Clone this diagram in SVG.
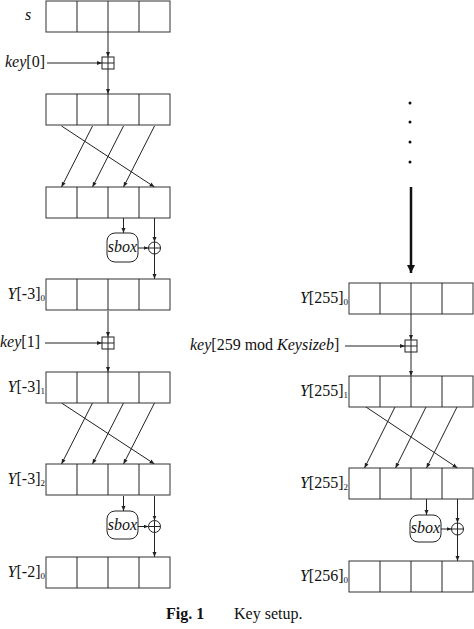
<svg xmlns="http://www.w3.org/2000/svg" width="474" height="629" viewBox="0 0 474 629" font-family="'Liberation Serif','Times New Roman',serif">
<style>
.cell{fill:#fff;stroke:#333;stroke-width:1}
.ln{fill:none;stroke:#222;stroke-width:1}
.ar{fill:none;stroke:#222;stroke-width:1;marker-end:url(#ah)}
.sb{fill:#fff;stroke:#222;stroke-width:1}
text{font-family:"Liberation Serif","Times New Roman",serif;font-size:16px;fill:#111}
tspan{fill:#111}
.it{font-style:italic}
.sub{font-size:9px;fill:#111}
</style>
<defs>
<marker id="ah" viewBox="0 0 10 10" refX="10" refY="5" markerWidth="5" markerHeight="5" orient="auto" markerUnits="userSpaceOnUse"><path d="M0,1 L10,5 L0,9 z" fill="#222"/></marker>
<marker id="ahb" viewBox="0 0 10 10" refX="10" refY="5" markerWidth="8" markerHeight="10" orient="auto" markerUnits="userSpaceOnUse"><path d="M0,0 L10,5 L0,10 z" fill="#111"/></marker>
<g id="row4">
<rect class="cell" x="0" y="0" width="124" height="31"/>
<line class="ln" x1="31" y1="0" x2="31" y2="31"/>
<line class="ln" x1="62" y1="0" x2="62" y2="31"/>
<line class="ln" x1="93" y1="0" x2="93" y2="31"/>
</g>
<g id="plusbox">
<rect x="-6" y="-6" width="12" height="12" fill="#fff" stroke="#222"/>
<line x1="-6" y1="0" x2="6" y2="0" stroke="#222"/>
<line x1="0" y1="-6" x2="0" y2="6" stroke="#222"/>
</g>
<g id="xor">
<circle cx="0" cy="0" r="6" fill="#fff" stroke="#222"/>
<line x1="-6" y1="0" x2="6" y2="0" stroke="#222"/>
<line x1="0" y1="-6" x2="0" y2="6" stroke="#222"/>
</g>
</defs>
<rect width="474" height="629" fill="#fff"/>

<g id="connectors">
<line class="ar" x1="108" y1="32" x2="108" y2="57"/>
<line class="ar" x1="47" y1="63" x2="102" y2="63"/>
<line class="ar" x1="108" y1="69" x2="108" y2="94"/>
<line class="ar" x1="61.5" y1="126" x2="154.5" y2="187"/>
<line class="ar" x1="92.5" y1="126" x2="61.5" y2="187"/>
<line class="ar" x1="123.5" y1="126" x2="92.5" y2="187"/>
<line class="ar" x1="154.5" y1="126" x2="123.5" y2="187"/>
<line class="ar" x1="123.5" y1="218" x2="123.5" y2="233"/>
<line class="ar" x1="154.5" y1="218" x2="154.5" y2="242"/>
<line class="ar" x1="138" y1="248" x2="148.5" y2="248"/>
<line class="ar" x1="154.5" y1="254" x2="154.5" y2="279"/>
<line class="ar" x1="108" y1="311" x2="108" y2="337"/>
<line class="ar" x1="45" y1="343" x2="102" y2="343"/>
<line class="ar" x1="108" y1="349" x2="108" y2="372"/>
<line class="ar" x1="61.5" y1="403" x2="154.5" y2="464"/>
<line class="ar" x1="92.5" y1="403" x2="61.5" y2="464"/>
<line class="ar" x1="123.5" y1="403" x2="92.5" y2="464"/>
<line class="ar" x1="154.5" y1="403" x2="123.5" y2="464"/>
<line class="ar" x1="123.5" y1="496" x2="123.5" y2="511"/>
<line class="ar" x1="154.5" y1="496" x2="154.5" y2="520.5"/>
<line class="ar" x1="138" y1="526.5" x2="148.5" y2="526.5"/>
<line class="ar" x1="154.5" y1="532.5" x2="154.5" y2="557"/>
<line x1="411" y1="187" x2="411" y2="273" stroke="#111" stroke-width="2.5" marker-end="url(#ahb)"/>
<line class="ar" x1="411" y1="313" x2="411" y2="340"/>
<line class="ar" x1="345" y1="346" x2="405" y2="346"/>
<line class="ar" x1="411" y1="352" x2="411" y2="376"/>
<line class="ar" x1="364.5" y1="406" x2="457.5" y2="468"/>
<line class="ar" x1="395.5" y1="406" x2="364.5" y2="468"/>
<line class="ar" x1="426.5" y1="406" x2="395.5" y2="468"/>
<line class="ar" x1="457.5" y1="406" x2="426.5" y2="468"/>
<line class="ar" x1="426.5" y1="499" x2="426.5" y2="515"/>
<line class="ar" x1="457.5" y1="499" x2="457.5" y2="523"/>
<line class="ar" x1="441" y1="529" x2="451.5" y2="529"/>
<line class="ar" x1="457.5" y1="535" x2="457.5" y2="561"/>
</g>

<g id="dots" fill="#111">
<circle cx="410" cy="103" r="1.5"/>
<circle cx="410" cy="122" r="1.5"/>
<circle cx="410" cy="142" r="1.5"/>
<circle cx="410" cy="162" r="1.5"/>
</g>

<g id="s"><use href="#row4" x="46" y="1"/><text class="it" x="25" y="20">s</text></g>
<g id="plus0"><use href="#plusbox" x="108" y="63"/></g>
<g id="key0"><text x="5" y="67"><tspan class="it">key</tspan>[0]</text></g>
<g id="r1"><use href="#row4" x="46" y="94"/></g>
<g id="r2"><use href="#row4" x="46" y="187"/></g>
<g id="sbox1"><rect class="sb" x="107" y="233" width="31" height="29" rx="8"/><text class="it" x="122.5" y="252" text-anchor="middle" font-size="15">sbox</text></g>
<g id="xor1"><use href="#xor" x="154.5" y="248"/></g>
<g id="y3_0"><use href="#row4" x="46" y="279"/><text x="45" y="299" text-anchor="end"><tspan class="it">Y</tspan>[-3]<tspan class="sub" dy="2">0</tspan></text></g>
<g id="plus1"><use href="#plusbox" x="108" y="343"/></g>
<g id="key1"><text x="0" y="347"><tspan class="it">key</tspan>[1]</text></g>
<g id="y3_1"><use href="#row4" x="46" y="372"/><text x="45" y="392" text-anchor="end"><tspan class="it">Y</tspan>[-3]<tspan class="sub" dy="2">1</tspan></text></g>
<g id="y3_2"><use href="#row4" x="46" y="464"/><text x="45" y="484" text-anchor="end"><tspan class="it">Y</tspan>[-3]<tspan class="sub" dy="2">2</tspan></text></g>
<g id="sbox2"><rect class="sb" x="107" y="511" width="31" height="28" rx="8"/><text class="it" x="122.5" y="530" text-anchor="middle" font-size="15">sbox</text></g>
<g id="xor2"><use href="#xor" x="154.5" y="526.5"/></g>
<g id="y2_0"><use href="#row4" x="46" y="557"/><text x="45" y="577" text-anchor="end"><tspan class="it">Y</tspan>[-2]<tspan class="sub" dy="2">0</tspan></text></g>

<g id="y255_0"><use href="#row4" x="349" y="283"/><text x="348" y="303" text-anchor="end"><tspan class="it">Y</tspan>[255]<tspan class="sub" dy="2">0</tspan></text></g>
<g id="plusR"><use href="#plusbox" x="411" y="346"/></g>
<g id="keyR"><text x="190" y="350"><tspan class="it">key</tspan>[259 mod <tspan class="it">Keysizeb</tspan>]</text></g>
<g id="y255_1"><use href="#row4" x="349" y="376"/><text x="348" y="396" text-anchor="end"><tspan class="it">Y</tspan>[255]<tspan class="sub" dy="2">1</tspan></text></g>
<g id="y255_2"><use href="#row4" x="349" y="468"/><text x="348" y="488" text-anchor="end"><tspan class="it">Y</tspan>[255]<tspan class="sub" dy="2">2</tspan></text></g>
<g id="sboxR"><rect class="sb" x="410" y="515" width="31" height="27" rx="8"/><text class="it" x="425.5" y="533" text-anchor="middle" font-size="15">sbox</text></g>
<g id="xorR"><use href="#xor" x="457.5" y="529"/></g>
<g id="y256_0"><use href="#row4" x="349" y="561"/><text x="348" y="581" text-anchor="end"><tspan class="it">Y</tspan>[256]<tspan class="sub" dy="2">0</tspan></text></g>

<g id="caption">
<text x="166" y="619" font-weight="bold">Fig. 1</text>
<text x="234" y="619" font-size="17">Key setup.</text>
</g>
</svg>
